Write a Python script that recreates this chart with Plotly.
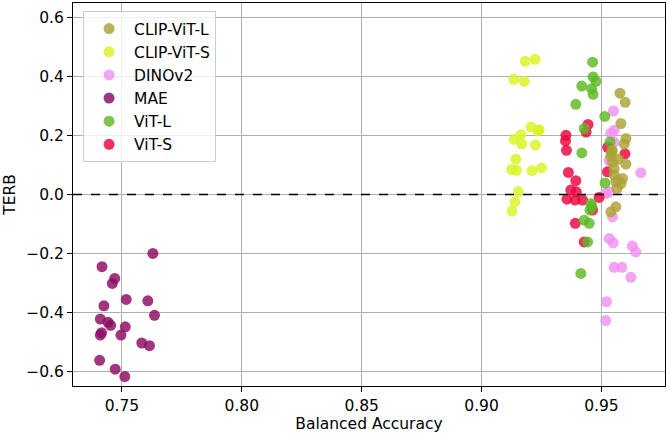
import plotly.graph_objects as go

models = ["CLIP-ViT-L", "CLIP-ViT-S", "DINOv2", "MAE", "ViT-L", "ViT-S"]
colors = {
    "CLIP-ViT-L": "#aca234",
    "CLIP-ViT-S": "#daf324",
    "DINOv2": "#f090f0",
    "MAE": "#8e0a62",
    "ViT-L": "#5cba23",
    "ViT-S": "#ed023d",
}

clip_l_acc = [0.9577, 0.9599, 0.9581, 0.9602, 0.9595, 0.9539, 0.9545, 0.9602, 0.9553, 0.9553,
              0.9560, 0.9588, 0.9581, 0.9560, 0.9539, 0.9545, 0.9570, 0.9565]
clip_l_terb = [0.344, 0.313, 0.241, 0.190, 0.171, 0.130, 0.110, 0.103, 0.088, 0.066,
               0.043, 0.054, 0.037, -0.042, -0.059, 0.150, 0.120, 0.020]

clip_s_acc = [0.9182, 0.9223, 0.9135, 0.9178, 0.9206, 0.9240, 0.9164, 0.9136, 0.9167, 0.9225,
              0.9235, 0.9143, 0.9125, 0.9146, 0.9210, 0.9250, 0.9153, 0.9139, 0.9127]
clip_s_terb = [0.452, 0.459, 0.391, 0.384, 0.229, 0.220, 0.203, 0.187, 0.171, 0.168,
               0.216, 0.120, 0.085, 0.082, 0.081, 0.090, 0.009, -0.025, -0.056]

dino_acc = [0.9550, 0.9553, 0.9539, 0.9553, 0.9532, 0.9664, 0.9532, 0.9518, 0.9546, 0.9532,
            0.9549, 0.9629, 0.9643, 0.9553, 0.9585, 0.9623, 0.9521, 0.9518, 0.9570]
dino_terb = [0.283, 0.218, 0.207, 0.178, 0.116, 0.074, 0.009, 0.003, -0.076, -0.149,
             -0.164, -0.175, -0.195, -0.247, -0.247, -0.281, -0.364, -0.428, 0.050]

mae_acc = [0.7629, 0.7417, 0.7470, 0.7460, 0.7518, 0.7608, 0.7425, 0.7636, 0.7410, 0.7442,
           0.7453, 0.7514, 0.7415, 0.7410, 0.7496, 0.7583, 0.7615, 0.7407, 0.7472, 0.7512]
mae_terb = [-0.200, -0.245, -0.285, -0.302, -0.356, -0.361, -0.378, -0.410, -0.423, -0.434,
            -0.444, -0.449, -0.469, -0.477, -0.477, -0.504, -0.513, -0.563, -0.593, -0.618]

vit_l_acc = [0.9463, 0.9465, 0.9477, 0.9418, 0.9459, 0.9465, 0.9393, 0.9514, 0.9428, 0.9418,
             0.9536, 0.9543, 0.9515, 0.9456, 0.9452, 0.9428, 0.9449, 0.9442, 0.9414, 0.9460]
vit_l_terb = [0.449, 0.399, 0.384, 0.368, 0.359, 0.340, 0.306, 0.265, 0.224, 0.141,
              0.178, 0.144, 0.039, -0.031, -0.053, -0.087, -0.098, -0.161, -0.268, -0.040]

vit_s_acc = [0.9352, 0.9350, 0.9354, 0.9362, 0.9393, 0.9372, 0.9395, 0.9356, 0.9390, 0.9421,
             0.9463, 0.9391, 0.9428, 0.9490, 0.9525, 0.9444, 0.9436, 0.9526, 0.9598]
vit_s_terb = [0.201, 0.182, 0.150, 0.075, 0.047, 0.015, 0.009, -0.016, -0.019, -0.019,
              -0.053, -0.098, -0.161, -0.010, 0.077, 0.238, 0.212, 0.160, 0.138]

data = {
    "CLIP-ViT-L": (clip_l_acc, clip_l_terb),
    "CLIP-ViT-S": (clip_s_acc, clip_s_terb),
    "DINOv2": (dino_acc, dino_terb),
    "MAE": (mae_acc, mae_terb),
    "ViT-L": (vit_l_acc, vit_l_terb),
    "ViT-S": (vit_s_acc, vit_s_terb),
}

draw_order = ["DINOv2", "ViT-S", "ViT-L", "CLIP-ViT-L", "CLIP-ViT-S", "MAE"]

fig = go.Figure()
for name in draw_order:
    xs, ys = data[name]
    fig.add_trace(go.Scatter(
        x=xs, y=ys, mode="markers", name=name,
        legendrank=models.index(name) + 1,
        marker=dict(size=11, color=colors[name], opacity=0.82, line=dict(width=0)),
    ))

fig.add_hline(y=0, line=dict(color="black", dash="dash", width=1.5))

font = "DejaVu Sans"
fs = 15.5
axis_common = dict(
    showgrid=True, gridcolor="#b0b0b0", gridwidth=0.8,
    showline=True, linecolor="black", linewidth=1, mirror=True,
    ticks="outside", ticklen=5, tickcolor="black",
    zeroline=False, tickfont=dict(family=font, size=fs, color="black"),
)

fig.update_layout(
    width=670, height=436,
    margin=dict(l=73, r=5, t=3, b=50),
    paper_bgcolor="white", plot_bgcolor="white",
    font=dict(family=font, size=fs, color="black"),
    showlegend=True,
    legend=dict(
        x=0.017, y=0.979, xanchor="left", yanchor="top",
        bgcolor="rgba(255,255,255,0.8)", bordercolor="#cccccc", borderwidth=1,
        font=dict(family=font, size=fs), itemsizing="trace", itemwidth=40,
    ),
    xaxis=dict(range=[0.7296, 0.9765], tickvals=[0.75, 0.80, 0.85, 0.90, 0.95],
               ticktext=["0.75", "0.80", "0.85", "0.90", "0.95"],
               title=dict(text="Balanced Accuracy", standoff=4, font=dict(family=font, size=fs)),
               **axis_common),
    yaxis=dict(range=[-0.65, 0.65], tickvals=[-0.6, -0.4, -0.2, 0.0, 0.2, 0.4, 0.6],
               ticktext=["\u22120.6", "\u22120.4", "\u22120.2", "0.0", "0.2", "0.4", "0.6"],
               title=dict(text="TERB", standoff=6, font=dict(family=font, size=fs)),
               **axis_common),
)

fig.write_html(
    "out.html",
    config={"displayModeBar": False},
    post_script="document.body.style.margin='0';document.body.style.overflow='hidden';",
)
